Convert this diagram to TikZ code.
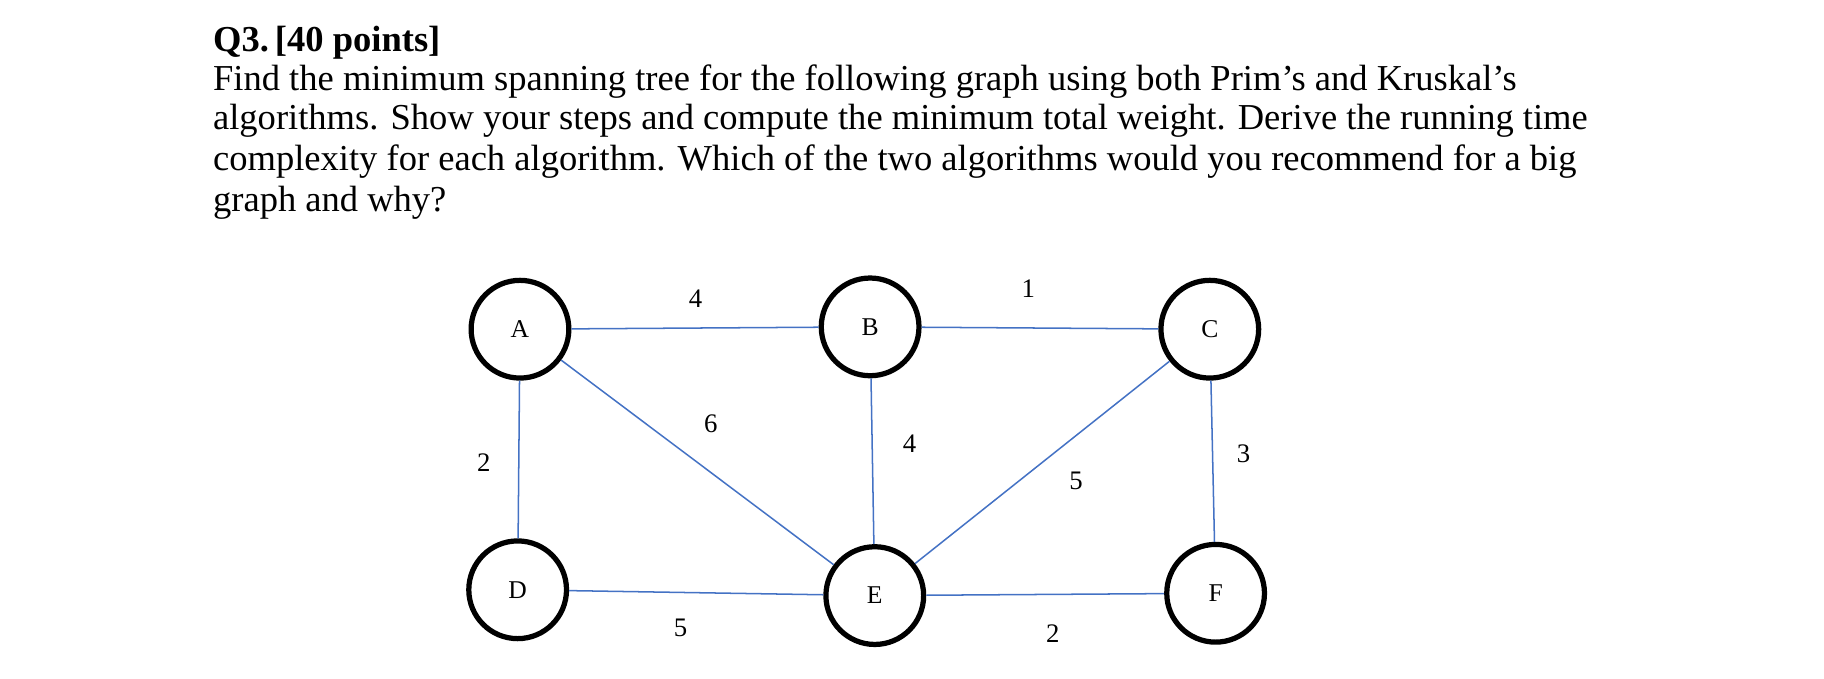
\documentclass[tikz,border=0pt]{standalone}
\usepackage{fontspec}
\setmainfont{Liberation Serif}
\begin{document}
\begin{tikzpicture}[x=1pt,y=-1pt,
  vert/.style={circle,draw=black,line width=4.5pt,minimum size=84pt,inner sep=0pt,font=\fontsize{22}{24}\selectfont},
  edge/.style={draw={rgb,255:red,68;green,114;blue,196},line width=1.3pt},
  wt/.style={font=\fontsize{23}{24}\selectfont},
  txt/.style={anchor=west,inner sep=0pt,font=\fontsize{31.4}{34}\selectfont}]
\useasboundingbox (0,0) rectangle (1568,583);
\node[txt] (t0) at (183,37) {\bfseries Q3.\,[40 points]};
\node[txt] (t1) at (183,70) {Find the minimum spanning tree for the following graph using both Prim’s and Kruskal’s};
\node[txt] (t2) at (183,104) {algorithms. Show your steps and compute the minimum total weight. Derive the running time};
\node[txt] (t3) at (183,139) {complexity for each algorithm. Which of the two algorithms would you recommend for a big};
\node[txt] (t4) at (183,174) {graph and why?};
\node[vert] (A) at (447,283) {A};
\node[vert] (B) at (748,281) {B};
\node[vert] (C) at (1040,283) {C};
\node[vert] (D) at (445,507) {D};
\node[vert] (E) at (752,512) {E};
\node[vert] (F) at (1045,510) {F};
\draw[edge] (A) -- (B);
\draw[edge] (B) -- (C);
\draw[edge] (A) -- (D);
\draw[edge] (A) -- (E);
\draw[edge] (B) -- (E);
\draw[edge] (C) -- (E);
\draw[edge] (C) -- (F);
\draw[edge] (D) -- (E);
\draw[edge] (E) -- (F);
\node[wt] (w1) at (598,257) {4};
\node[wt] (w2) at (884,248) {1};
\node[wt] (w3) at (611,364) {6};
\node[wt] (w4) at (782,381) {4};
\node[wt] (w5) at (416,398) {2};
\node[wt] (w6) at (925,413) {5};
\node[wt] (w7) at (1069,390) {3};
\node[wt] (w8) at (585,540) {5};
\node[wt] (w9) at (905,545) {2};
\end{tikzpicture}
\end{document}
